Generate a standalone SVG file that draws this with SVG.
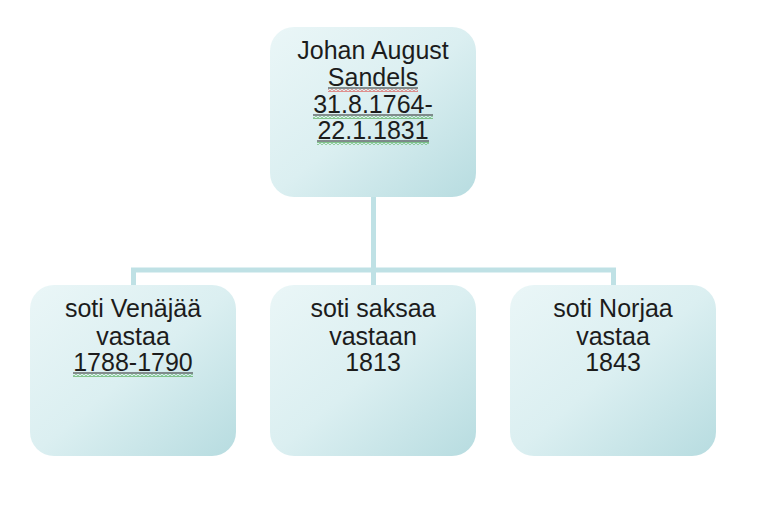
<svg xmlns="http://www.w3.org/2000/svg" width="757" height="511" viewBox="0 0 757 511">
<style>
.box{fill:url(#g);}
.t{font-family:"Liberation Sans",Arial,sans-serif;font-size:25px;fill:#1c1c1c;text-anchor:middle;}
.ul{stroke:#2a2a2a;stroke-width:1.1;}
.con{fill:none;stroke:#bfe1e5;stroke-width:5;}
</style>
<defs>
<linearGradient id="g" x1="0" y1="0" x2="1" y2="1">
<stop offset="0" stop-color="#eaf6f7"/>
<stop offset="0.5" stop-color="#dbeff1"/>
<stop offset="1" stop-color="#b7dce0"/>
</linearGradient>
<pattern id="wr" x="0" y="0" width="4" height="3" patternUnits="userSpaceOnUse">
<polyline points="0,2.4 2,0.6 4,2.4" fill="none" stroke="#e0403a" stroke-width="1"/>
</pattern>
<pattern id="wg" x="0" y="0" width="4" height="3" patternUnits="userSpaceOnUse">
<polyline points="0,2.4 2,0.6 4,2.4" fill="none" stroke="#3aa43a" stroke-width="1"/>
</pattern>
</defs>
<rect width="757" height="511" fill="#ffffff"/>
<g id="connectors">
<path class="con" d="M373.5,197 V270 M133.5,285 V270 H613.5 V285 M373.5,270 V285"/>
</g>
<g id="node-root">
<rect class="box" x="270" y="27" width="206" height="170" rx="24"/>
<text class="t" x="373" y="59">Johan August</text>
<text class="t" x="373" y="86">Sandels</text>
<line class="ul" x1="328" y1="88" x2="418" y2="88"/>
<rect x="328" y="89" width="90" height="3" fill="url(#wr)"/>
<text class="t" x="373" y="113">31.8.1764-</text>
<line class="ul" x1="313" y1="115" x2="433" y2="115"/>
<rect x="313" y="116" width="120" height="3" fill="url(#wg)"/>
<text class="t" x="373" y="139">22.1.1831</text>
<line class="ul" x1="317" y1="141" x2="429" y2="141"/>
<rect x="317" y="142" width="112" height="3" fill="url(#wg)"/>
</g>
<g id="node-venaja">
<rect class="box" x="30" y="285" width="206" height="171" rx="24"/>
<text class="t" x="133" y="317">soti Venäjää</text>
<text class="t" x="133" y="345">vastaa</text>
<text class="t" x="133" y="371">1788-1790</text>
<line class="ul" x1="73" y1="373" x2="193" y2="373"/>
<rect x="73" y="374" width="120" height="3" fill="url(#wg)"/>
</g>
<g id="node-saksa">
<rect class="box" x="270" y="285" width="206" height="171" rx="24"/>
<text class="t" x="373" y="317">soti saksaa</text>
<text class="t" x="373" y="345">vastaan</text>
<text class="t" x="373" y="371">1813</text>
</g>
<g id="node-norja">
<rect class="box" x="510" y="285" width="206" height="171" rx="24"/>
<text class="t" x="613" y="317">soti Norjaa</text>
<text class="t" x="613" y="345">vastaa</text>
<text class="t" x="613" y="371">1843</text>
</g>
</svg>
